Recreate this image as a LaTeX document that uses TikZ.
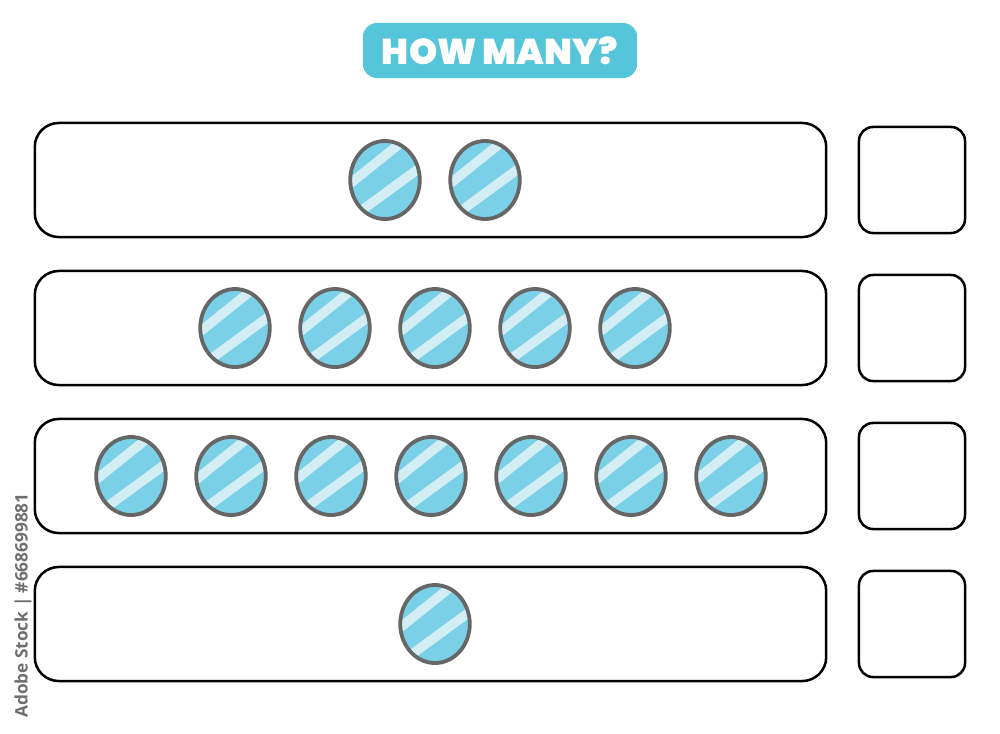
\documentclass[tikz,border=0pt]{standalone}
\usepackage{fontspec}
\setmainfont{Poppins}[BoldFont={Poppins Black}]
\newfontfamily\stockfont{Open Sans}
\usetikzlibrary{shapes.geometric}
\definecolor{headblue}{HTML}{55C5D9}
\definecolor{glassblue}{HTML}{7AD0E6}
\definecolor{glassstripe}{HTML}{D3EDF4}
\definecolor{rimgray}{HTML}{666666}
\definecolor{stockgray}{HTML}{6E6E6E}
\tikzset{
  rowbox/.style={draw=black, line width=0.025cm, fill=white, rounded corners=0.24cm, minimum width=7.91cm, minimum height=1.14cm, inner sep=0pt, outer sep=0pt},
  answerbox/.style={draw=black, line width=0.025cm, fill=white, rounded corners=0.14cm, minimum width=1.06cm, minimum height=1.06cm, inner sep=0pt, outer sep=0pt},
  mirror/.style={ellipse, draw=rimgray, line width=0.038cm, fill=glassblue, minimum width=0.695cm, minimum height=0.78cm, inner sep=0pt, outer sep=0pt,
    path picture={
      \draw[glassstripe, line width=0.095cm] ([shift={(-41,8.5)}]path picture bounding box.center)--++(66,-53);
      \draw[glassstripe, line width=0.095cm] ([shift={(-27,33)}]path picture bounding box.center)--++(67,-49);
    }},
}
\begin{document}
\begin{tikzpicture}[x=0.01cm, y=-0.01cm]
\useasboundingbox (0,0) rectangle (1000,733);

% title
\node[fill=headblue, rounded corners=0.14cm, minimum width=2.74cm, minimum height=0.55cm, inner sep=0pt] (title) at (500,50.5) {};
\node[text=white, font=\fontsize{10.2}{12}\selectfont\bfseries, inner sep=0pt] (titletext) at (500,50.5) {HOW MANY?};

% rows
\foreach \r/\y in {1/180, 2/328, 3/476, 4/624}
{
  \node[rowbox] (row\r) at (430.5,\y) {};
  \node[answerbox] (answer\r) at (912,\y) {};
}

% mirrors
\foreach \x [count=\i] in {385,485}
  \node[mirror] (mirrorA\i) at (\x,180) {};
\foreach \x [count=\i] in {235,335,435,535,635}
  \node[mirror] (mirrorB\i) at (\x,328) {};
\foreach \x [count=\i] in {131,231,331,431,531,631,731}
  \node[mirror] (mirrorC\i) at (\x,476) {};
\node[mirror] (mirrorD1) at (435,624) {};

% side label
\node[rotate=90, text=stockgray, font=\stockfont\fontsize{4.9}{6}\selectfont\bfseries, inner sep=0pt] (stock) at (23,605.5) {Adobe Stock | \#668699881};

\end{tikzpicture}
\end{document}
